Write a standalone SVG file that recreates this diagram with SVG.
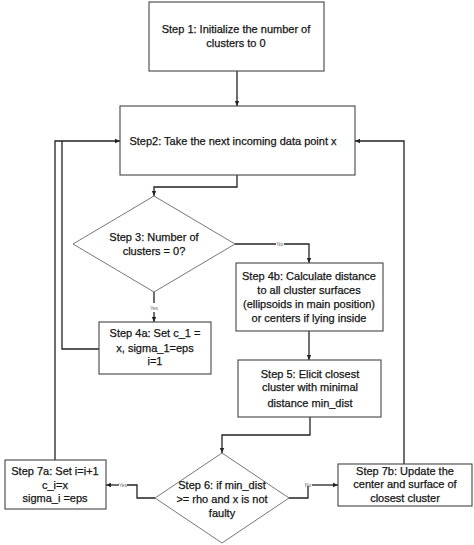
<svg xmlns="http://www.w3.org/2000/svg" width="474" height="545" viewBox="0 0 474 545">
<defs>
<marker id="ah" markerWidth="6" markerHeight="6" refX="5" refY="3" orient="auto" markerUnits="userSpaceOnUse">
<path d="M0,0.8 L5,3 L0,5.2 Z" fill="#222"/>
</marker>
</defs>
<style>
.box{fill:#fff;stroke:#444;stroke-width:1.1}
.dia{fill:#fff;stroke:#777;stroke-width:1}
.t{font-family:"Liberation Sans",Arial,sans-serif;font-size:11px;fill:#151515;text-anchor:middle;stroke:#151515;stroke-width:0.25}
.c{fill:none;stroke:#222;stroke-width:1.3}
.lbl{font-family:"Liberation Sans",Arial,sans-serif;font-size:5px;fill:#666;text-anchor:middle}
</style>
<rect width="474" height="545" fill="#fff"/>
<g id="connectors">
<path class="c" d="M237,71 V106" marker-end="url(#ah)"/>
<path class="c" d="M237,175 V187 H154 V196" marker-end="url(#ah)"/>
<path class="c" d="M154,292 V303"/>
<path class="c" d="M154,312 V322" marker-end="url(#ah)"/>
<path class="c" d="M235,244 V244 H276"/>
<path class="c" d="M284,244 H309 V263" marker-end="url(#ah)"/>
<path class="c" d="M309,331 V360" marker-end="url(#ah)"/>
<path class="c" d="M99,349 H62 V141"/>
<path class="c" d="M55,460 V141 H120" marker-end="url(#ah)"/>
<path class="c" d="M310,417 V435 H222 V453" marker-end="url(#ah)"/>
<path class="c" d="M155,498 H137 V485 H127"/>
<path class="c" d="M119,485 H106" marker-end="url(#ah)"/>
<path class="c" d="M289,498 H308 V486"/>
<path class="c" d="M312,485 H338" marker-end="url(#ah)"/>
<path class="c" d="M404,464 V141 H355" marker-end="url(#ah)"/>
</g>
<g id="step1">
<rect class="box" x="149" y="2" width="175" height="69"/>
<text class="t" x="236" y="33">Step 1: Initialize the number of</text>
<text class="t" x="236" y="47">clusters to 0</text>
</g>
<g id="step2">
<rect class="box" x="120" y="106" width="235" height="69"/>
<text class="t" x="233" y="145">Step2: Take the next incoming data point x</text>
</g>
<g id="step3">
<polygon class="dia" points="154,196 235,244 154,292 73,244"/>
<text class="t" x="154" y="241">Step 3: Number of</text>
<text class="t" x="154" y="255">clusters = 0?</text>
</g>
<g id="label-yes1"><text class="lbl" x="154" y="310">Yes</text></g>
<g id="label-no1"><text class="lbl" x="280" y="246">No</text></g>
<g id="step4a">
<rect class="box" x="99" y="322" width="112" height="52"/>
<text class="t" x="155" y="337">Step 4a: Set  c_1 =</text>
<text class="t" x="155" y="352">x, sigma_1=eps</text>
<text class="t" x="155" y="365">i=1</text>
</g>
<g id="step4b">
<rect class="box" x="236" y="263" width="147" height="68"/>
<text class="t" x="309" y="280">Step 4b: Calculate distance</text>
<text class="t" x="309" y="294">to all cluster surfaces</text>
<text class="t" x="309" y="308">(ellipsoids in main position)</text>
<text class="t" x="309" y="322">or centers if lying inside</text>
</g>
<g id="step5">
<rect class="box" x="238" y="360" width="143" height="57"/>
<text class="t" x="310" y="378">Step 5: Elicit closest</text>
<text class="t" x="310" y="391">cluster with minimal</text>
<text class="t" x="310" y="407">distance min_dist</text>
</g>
<g id="step6">
<polygon class="dia" points="222,453 289,498 222,543 155,498"/>
<text class="t" x="222" y="489">Step 6: if min_dist</text>
<text class="t" x="222" y="503">&gt;= rho and x is not</text>
<text class="t" x="222" y="517">faulty</text>
</g>
<g id="label-yes2"><text class="lbl" x="123" y="487">Yes</text></g>
<g id="label-no2"><text class="lbl" x="308" y="487">No</text></g>
<g id="step7a">
<rect class="box" x="5" y="460" width="101" height="49"/>
<text class="t" x="55" y="475">Step 7a: Set i=i+1</text>
<text class="t" x="55" y="489">c_i=x</text>
<text class="t" x="55" y="502">sigma_i =eps</text>
</g>
<g id="step7b">
<rect class="box" x="338" y="464" width="134" height="42"/>
<text class="t" x="405" y="475">Step 7b: Update the</text>
<text class="t" x="405" y="488">center and surface of</text>
<text class="t" x="405" y="502">closest cluster</text>
</g>
</svg>
